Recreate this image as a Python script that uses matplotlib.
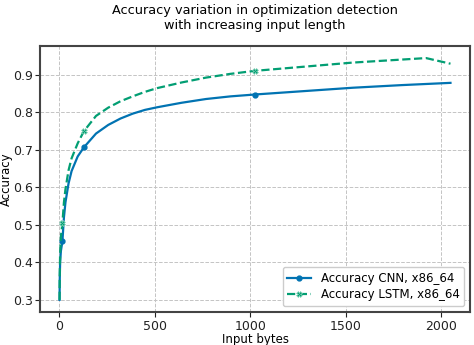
import matplotlib
matplotlib.use("Agg")
import matplotlib.pyplot as plt

input_bytes = [1, 2, 4, 8, 16, 24, 32, 48, 64, 96, 128, 192, 256, 320, 384, 448, 512,
               640, 768, 896, 1024, 1280, 1536, 1792, 1920, 2048]
acc_cnn = [0.300, 0.355, 0.400, 0.430, 0.456, 0.520, 0.560, 0.610, 0.643, 0.682,
           0.706, 0.743, 0.766, 0.783, 0.796, 0.806, 0.813, 0.825, 0.835,
           0.842, 0.847, 0.856, 0.865, 0.872, 0.875, 0.878]
acc_lstm = [0.300, 0.365, 0.425, 0.468, 0.505, 0.560, 0.595, 0.645, 0.677, 0.717,
            0.749, 0.790, 0.812, 0.829, 0.842, 0.854, 0.864, 0.879, 0.892,
            0.902, 0.910, 0.921, 0.932, 0.940, 0.944, 0.929]
marker_idx = [4, 10, 20]

label_cnn = "Accuracy CNN, x86_64"
label_lstm = "Accuracy LSTM, x86_64"
title = "Accuracy variation in optimization detection\nwith increasing input length"

blue = "#0173B2"
green = "#029E73"

fig = plt.figure(figsize=(4.74, 3.45), dpi=100)
ax = fig.add_axes([0.0844, 0.0957, 0.9072, 0.771])

ax.plot(input_bytes, acc_cnn, color=blue, lw=1.6, marker="o", markersize=3.5,
        markevery=marker_idx, label=label_cnn, zorder=3)
ax.plot(input_bytes, acc_lstm, color=green, lw=1.6, ls="--", marker="X",
        markersize=4, markeredgecolor="#8fd6bd", markeredgewidth=0.5,
        markevery=marker_idx, label=label_lstm, zorder=3)

ax.set_xticks([0, 500, 1000, 1500, 2000])
ax.set_yticks([0.3, 0.4, 0.5, 0.6, 0.7, 0.8, 0.9])
ax.tick_params(labelsize=9, length=3.5, width=0.8, pad=2, colors="#222222")
ax.tick_params(axis="y", pad=1.5)
ax.grid(True, ls="--", color="#c4c4c4", lw=0.7)
ax.set_axisbelow(True)
for s in ax.spines.values():
    s.set_color("#444444")
    s.set_linewidth(1.5)

ax.set_xlabel("Input bytes", fontsize=8.5, labelpad=0)
ax.set_ylabel("Accuracy", fontsize=8.5, labelpad=0)
ax.set_title(title, fontsize=9.3, pad=12, linespacing=1.25)
ax.legend(loc="lower right", fontsize=8.5, framealpha=1, edgecolor="#cccccc",
          handlelength=2.0, borderpad=0.4, labelspacing=0.3)

fig.savefig("out.png", dpi=100)
